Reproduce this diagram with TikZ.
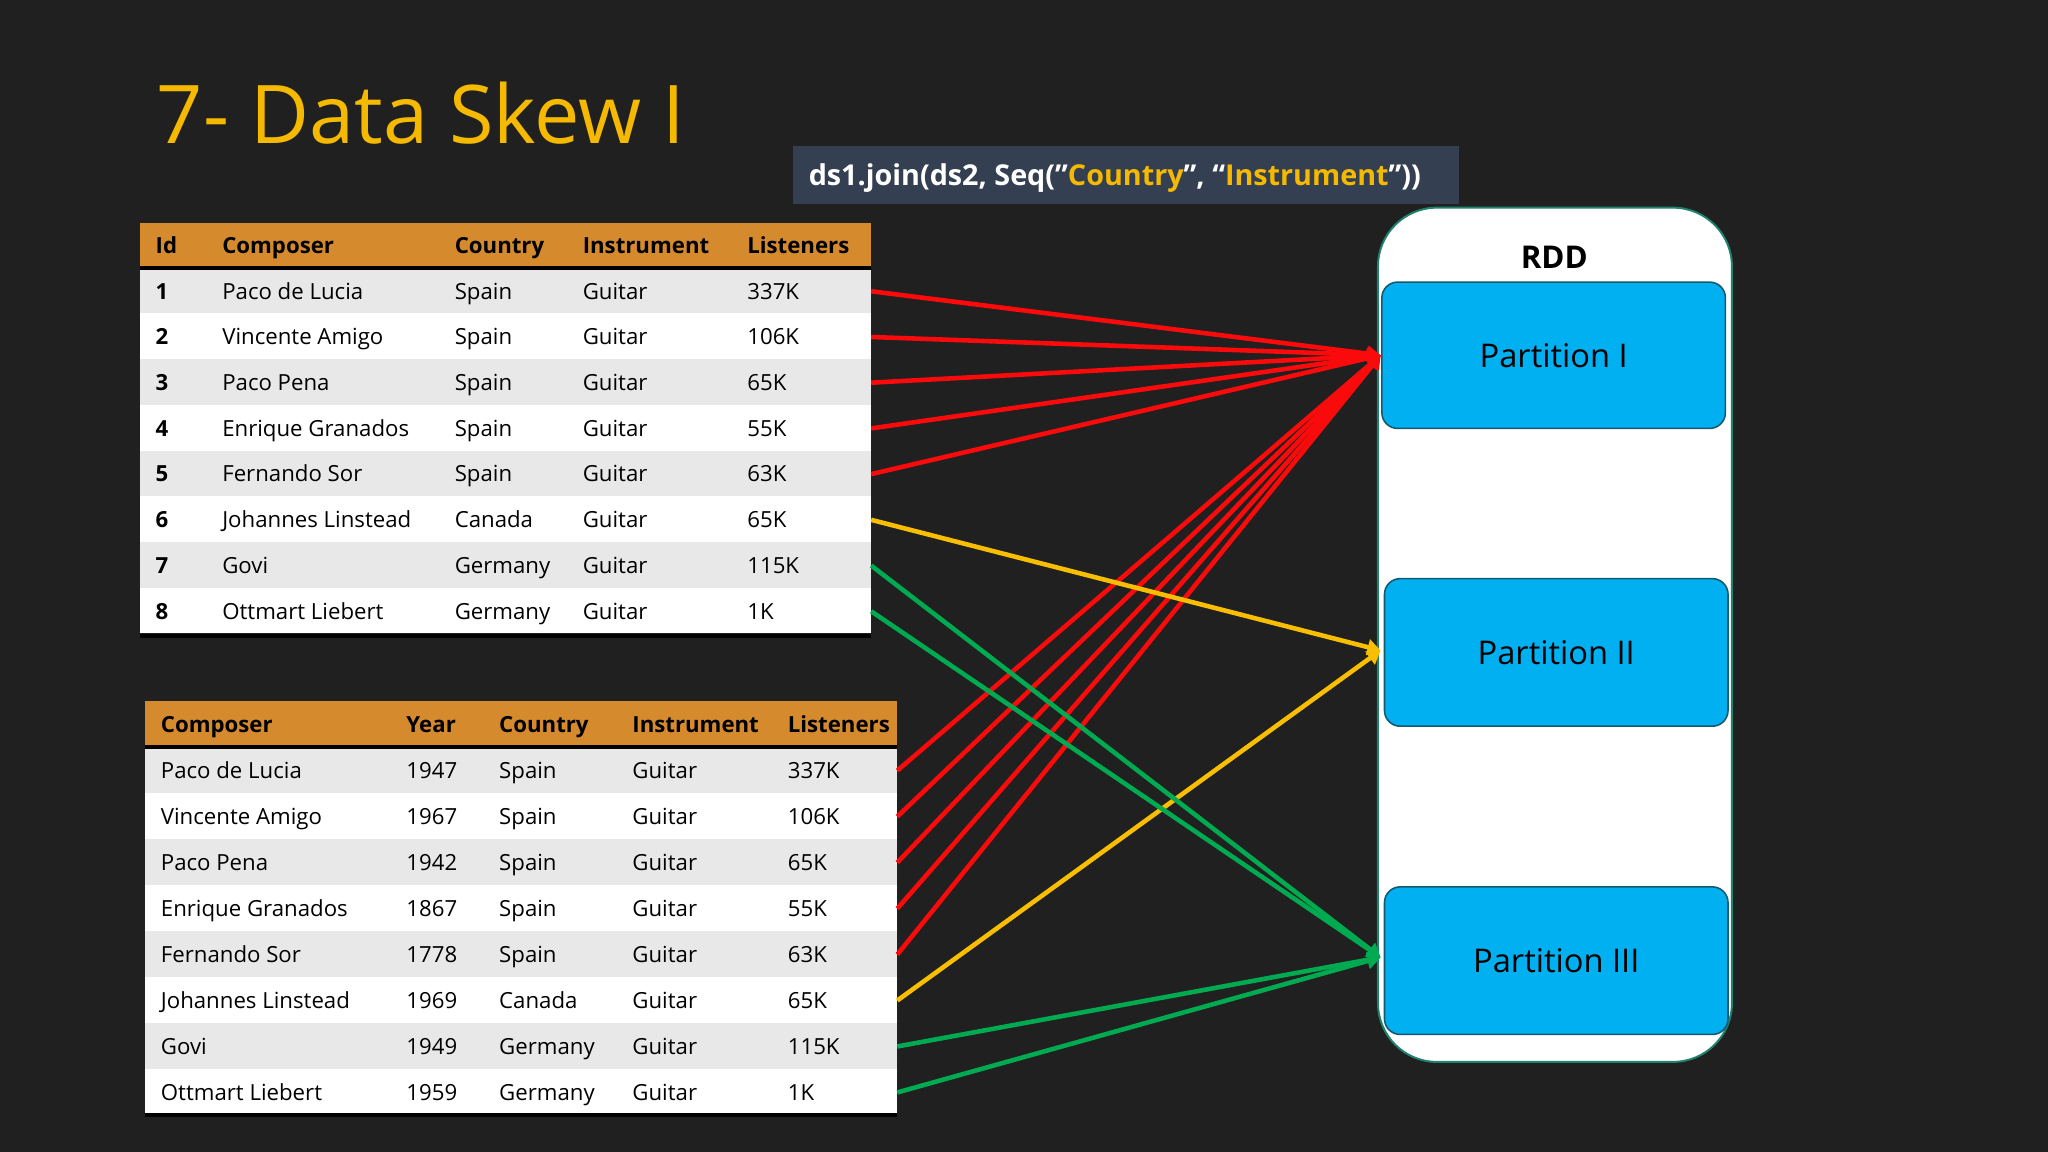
\documentclass[tikz,border=0pt]{standalone}
\usepackage{fontspec}
\setmainfont{Open Sans}
\usetikzlibrary{arrows.meta}
\definecolor{bg}{RGB}{32,32,32}
\definecolor{ttl}{RGB}{245,185,0}
\definecolor{codebg}{RGB}{52,64,82}
\definecolor{hdr}{RGB}{214,138,46}
\definecolor{rowg}{RGB}{232,232,232}
\definecolor{part}{RGB}{0,176,240}
\definecolor{partb}{RGB}{20,90,110}
\definecolor{rdd}{RGB}{30,130,110}
\definecolor{ared}{RGB}{250,10,10}
\definecolor{ayel}{RGB}{250,190,0}
\definecolor{agrn}{RGB}{0,170,80}
\tikzset{
 cell/.style={anchor=base west,font=\fontsize{17}{20}\selectfont,text=black,inner sep=0,yshift=-6pt},
 hcell/.style={cell,font=\fontsize{17}{20}\selectfont\bfseries},
 pbox/.style={draw=partb,line width=1.2pt,fill=part,rounded corners=12pt,font=\fontsize{25}{30}\selectfont},
 conn/.style={line width=3.5pt,-{Triangle[length=10pt,width=12pt]}},
}
\begin{document}
\begin{tikzpicture}[x=1pt,y=-1pt]
\fill[bg] (0,0) rectangle (1568,882);
\useasboundingbox (0,0) rectangle (1568,882);
\node[anchor=base west,text=ttl,font=\fontsize{62}{66}\selectfont,inner sep=0] (title) at (120,110) {7- Data Skew I};
\fill[codebg] (607,112) rectangle (1117,156);
\node[anchor=base west,text=white,font=\fontsize{22}{26}\selectfont\bfseries,inner sep=0] (code) at (619,142) {ds1.join(ds2, Seq(”\textcolor{ttl}{Country}”, “\textcolor{ttl}{Instrument}”))};
% table 1
\fill[hdr] (107,171) rectangle (667,205);
\foreach \i in {1,3,5,7} \fill[rowg] (107,{205+35*(\i-1)}) rectangle (667,{205+35*\i});
\foreach \i in {2,4,6,8} \fill[white] (107,{205+35*(\i-1)}) rectangle (667,{205+35*\i});
\draw[black,line width=3pt] (107,205) -- (667,205);
\draw[black,line width=3pt] (107,487) -- (667,487);
\node[hcell] (ta-h) at (119,188) {Id}; \node[hcell] at (170,188) {Composer}; \node[hcell] at (348,188) {Country}; \node[hcell] at (446,188) {Instrument}; \node[hcell] at (572,188) {Listeners};
\foreach \n/\a/\b/\c/\d [count=\k] in {1/Paco de Lucia/Spain/Guitar/337K,2/Vincente Amigo/Spain/Guitar/106K,3/Paco Pena/Spain/Guitar/65K,4/Enrique Granados/Spain/Guitar/55K,5/Fernando Sor/Spain/Guitar/63K,6/Johannes Linstead/Canada/Guitar/65K,7/Govi/Germany/Guitar/115K,8/Ottmart Liebert/Germany/Guitar/1K}{
 \node[hcell] at (119,{223+35*(\k-1)}) {\n};
 \node[cell] at (170,{223+35*(\k-1)}) {\a};
 \node[cell] at (348,{223+35*(\k-1)}) {\b};
 \node[cell] at (446,{223+35*(\k-1)}) {\c};
 \node[cell] at (572,{223+35*(\k-1)}) {\d};
 \coordinate (a\k) at (667,{223+35*(\k-1)});}
% table 2
\fill[hdr] (111,537) rectangle (687,572);
\foreach \i in {1,3,5,7} \fill[rowg] (111,{572+35.2*(\i-1)}) rectangle (687,{572+35.2*\i});
\foreach \i in {2,4,6,8} \fill[white] (111,{572+35.2*(\i-1)}) rectangle (687,{572+35.2*\i});
\draw[black,line width=3pt] (111,572) -- (687,572);
\draw[black,line width=3pt] (111,854) -- (687,854);
\node[hcell] (tb-h) at (123,555) {Composer}; \node[hcell] at (311,555) {Year}; \node[hcell] at (382,555) {Country}; \node[hcell] at (484,555) {Instrument}; \node[hcell] at (603,555) {Listeners};
\foreach \a/\y/\b/\c/\d [count=\k] in {Paco de Lucia/1947/Spain/Guitar/337K,Vincente Amigo/1967/Spain/Guitar/106K,Paco Pena/1942/Spain/Guitar/65K,Enrique Granados/1867/Spain/Guitar/55K,Fernando Sor/1778/Spain/Guitar/63K,Johannes Linstead/1969/Canada/Guitar/65K,Govi/1949/Germany/Guitar/115K,Ottmart Liebert/1959/Germany/Guitar/1K}{
 \node[cell] at (123,{590+35.2*(\k-1)}) {\a};
 \node[cell] at (311,{590+35.2*(\k-1)}) {\y};
 \node[cell] at (382,{590+35.2*(\k-1)}) {\b};
 \node[cell] at (484,{590+35.2*(\k-1)}) {\c};
 \node[cell] at (603,{590+35.2*(\k-1)}) {\d};
 \coordinate (b\k) at (687,{590+35.2*(\k-1)});}
% RDD
\draw[rdd,line width=1.5pt,fill=white,rounded corners=45pt] (1055,159) rectangle (1326,813);
\node[font=\fontsize{24}{28}\selectfont\bfseries,text=black] (rdd) at (1190,197) {RDD};
\node[pbox,minimum width=263pt,minimum height=112pt] (p1) at (1189.5,272) {Partition I};
\node[pbox,minimum width=263pt,minimum height=113pt] (p2) at (1191.5,499.5) {Partition II};
\node[pbox,minimum width=263pt,minimum height=113pt] (p3) at (1191.5,735.5) {Partition III};
\coordinate (t1) at (1057,272);
\coordinate (t2) at (1057,498);
\coordinate (t3) at (1057,733);
\foreach \k in {1,...,5}{\draw[conn,ared] (a\k) -- (t1); \draw[conn,ared] (b\k) -- (t1);}
\draw[conn,ayel] (a6) -- (t2); \draw[conn,ayel] (b6) -- (t2);
\foreach \k in {7,8}{\draw[conn,agrn] (a\k) -- (t3); \draw[conn,agrn] (b\k) -- (t3);}
\end{tikzpicture}
\end{document}
